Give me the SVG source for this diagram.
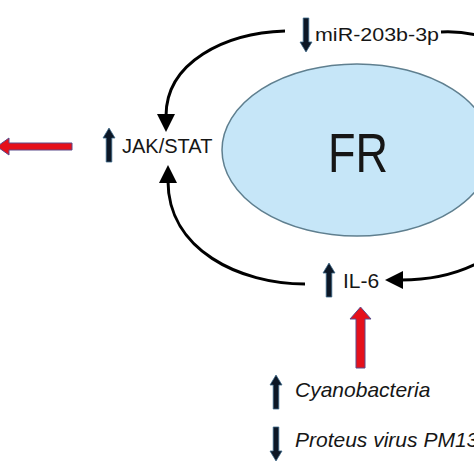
<svg xmlns="http://www.w3.org/2000/svg" width="474" height="474" viewBox="0 0 474 474">
  <style>
    .lbl { font-family: "Liberation Sans", Arial, sans-serif; fill: #161616; }
    .it { font-style: italic; }
    .conn { fill: none; stroke: #000; stroke-width: 3; }
    .dark { fill: #0c1726; stroke: #3d6a8a; stroke-width: 0.8; }
    .red { fill: #e5101b; stroke: #5a4a8a; stroke-width: 1; }
  </style>
  <defs>
    <marker id="ah" markerUnits="userSpaceOnUse" viewBox="0 0 18 18" markerWidth="18" markerHeight="18" refX="2" refY="9" orient="auto">
      <path d="M0,0 L18,9 L0,18 Z" fill="#000"/>
    </marker>
    <path id="up" d="M0,0 L6,10 L2.8,10 L2.8,34 L-2.8,34 L-2.8,10 L-6,10 Z"/>
  </defs>
  <rect width="474" height="474" fill="#fff"/>

  <g id="FR">
    <ellipse cx="357" cy="150" rx="135" ry="86" fill="#c6e6f8" stroke="#5f7f8f" stroke-width="1.5"/>
    <text class="lbl" x="358" y="172" font-size="56" text-anchor="middle" textLength="60" lengthAdjust="spacingAndGlyphs">FR</text>
  </g>

  <g id="connectors">
    <path class="conn" d="M285,31 C225,33 166,62 166,116" marker-end="url(#ah)"/>
    <path class="conn" d="M305,284 C240,284 168,250 168,181" marker-end="url(#ah)"/>
    <path class="conn" d="M441,32 Q462,31 480,36"/>
    <path class="conn" d="M490,256 C462,274 430,280 401,280" marker-end="url(#ah)"/>
    <path class="red" d="M72,143 L9,143 L9,138 L-3,146.5 L9,155 L9,150 L72,150 Z"/>
    <path class="red" d="M356,368 L356,319 L350,319 L360.5,307 L371,319 L365,319 L365,368 Z"/>
  </g>

  <g id="miR">
    <use href="#up" class="dark" transform="translate(306,52) rotate(180)"/>
    <text class="lbl" x="315" y="41" font-size="19" textLength="124" lengthAdjust="spacingAndGlyphs">miR-203b-3p</text>
  </g>

  <g id="JAKSTAT">
    <use href="#up" class="dark" transform="translate(109,128)"/>
    <text class="lbl" x="122" y="153" font-size="20">JAK/STAT</text>
  </g>

  <g id="IL6">
    <use href="#up" class="dark" transform="translate(329,263)"/>
    <text class="lbl" x="343" y="288" font-size="21">IL-6</text>
  </g>

  <g id="Cyanobacteria">
    <use href="#up" class="dark" transform="translate(276,375)"/>
    <text class="lbl it" x="295" y="397" font-size="21">Cyanobacteria</text>
  </g>

  <g id="Proteus">
    <use href="#up" class="dark" transform="translate(276,461) rotate(180)"/>
    <text class="lbl it" x="295" y="447" font-size="21">Proteus virus PM13</text>
  </g>
</svg>
